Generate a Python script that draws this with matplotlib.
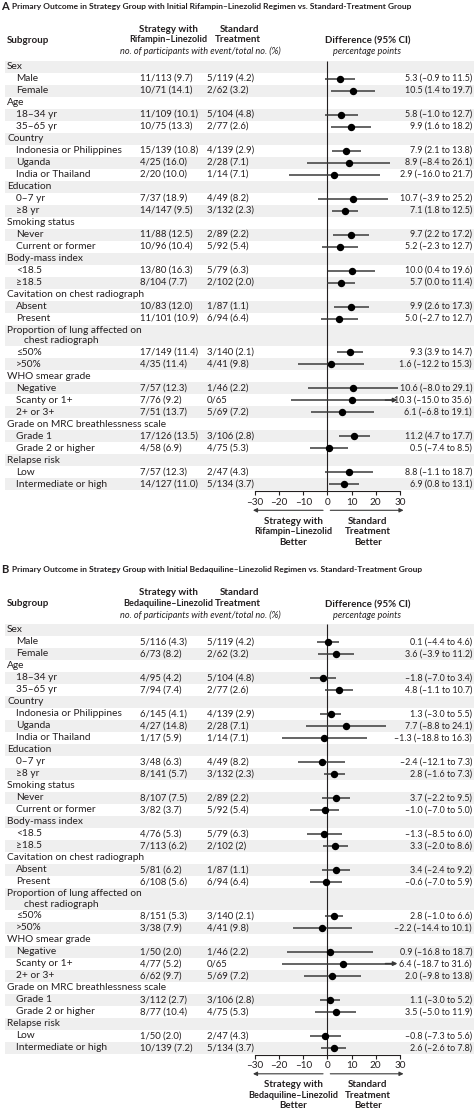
import matplotlib
matplotlib.use("Agg")
import matplotlib.pyplot as plt
import matplotlib.transforms as mtransforms
from matplotlib import font_manager

names = {f.name for f in font_manager.fontManager.ttflist}
FONT = "Liberation Sans Narrow" if "Liberation Sans Narrow" in names else "Lato"
plt.rcParams["font.family"] = [FONT, "DejaVu Sans"]
plt.rcParams["font.size"] = 7.3
NUM_SIZE = 6.8
DIFF_SIZE = 6.4
HEAD_SIZE = 7.0
NAME_SIZE = 6.6
ITAL_SIZE = 6.6

INK = "#231f20"
STRIPE = "#efefef"

W, H = 474, 1115

groups = ["Sex", "Age", "Country", "Education", "Smoking status", "Body-mass index",
          "Cavitation on chest radiograph", "Proportion of lung affected on\nchest radiograph",
          "WHO smear grade", "Grade on MRC breathlessness scale", "Relapse risk"]
subgroups = [["Male", "Female"], ["18–34 yr", "35–65 yr"],
             ["Indonesia or Philippines", "Uganda", "India or Thailand"],
             ["0–7 yr", "≥8 yr"], ["Never", "Current or former"], ["<18.5", "≥18.5"],
             ["Absent", "Present"], ["≤50%", ">50%"],
             ["Negative", "Scanty or 1+", "2+ or 3+"], ["Grade 1", "Grade 2 or higher"],
             ["Low", "Intermediate or high"]]

std_counts = ["5/119 (4.2)", "2/62 (3.2)", "5/104 (4.8)", "2/77 (2.6)", "4/139 (2.9)",
              "2/28 (7.1)", "1/14 (7.1)", "4/49 (8.2)", "3/132 (2.3)", "2/89 (2.2)",
              "5/92 (5.4)", "5/79 (6.3)", "2/102 (2.0)", "1/87 (1.1)", "6/94 (6.4)",
              "3/140 (2.1)", "4/41 (9.8)", "1/46 (2.2)", "0/65", "5/69 (7.2)",
              "3/106 (2.8)", "4/75 (5.3)", "2/47 (4.3)", "5/134 (3.7)"]

# panel A: rifampin-linezolid
rl_title = "Primary Outcome in Strategy Group with Initial Rifampin–Linezolid Regimen vs. Standard-Treatment Group"
rl_counts = ["11/113 (9.7)", "10/71 (14.1)", "11/109 (10.1)", "10/75 (13.3)", "15/139 (10.8)",
             "4/25 (16.0)", "2/20 (10.0)", "7/37 (18.9)", "14/147 (9.5)", "11/88 (12.5)",
             "10/96 (10.4)", "13/80 (16.3)", "8/104 (7.7)", "10/83 (12.0)", "11/101 (10.9)",
             "17/149 (11.4)", "4/35 (11.4)", "7/57 (12.3)", "7/76 (9.2)", "7/51 (13.7)",
             "17/126 (13.5)", "4/58 (6.9)", "7/57 (12.3)", "14/127 (11.0)"]
rl_diff = [5.3, 10.5, 5.8, 9.9, 7.9, 8.9, 2.9, 10.7, 7.1, 9.7, 5.2, 10.0, 5.7,
           9.9, 5.0, 9.3, 1.6, 10.6, 10.3, 6.1, 11.2, 0.5, 8.8, 6.9]
rl_lo = [-0.9, 1.4, -1.0, 1.6, 2.1, -8.4, -16.0, -3.9, 1.8, 2.2, -2.3, 0.4, 0.0,
         2.6, -2.7, 3.9, -12.2, -8.0, -15.0, -6.8, 4.7, -7.4, -1.1, 0.8]
rl_hi = [11.5, 19.7, 12.7, 18.2, 13.8, 26.1, 21.7, 25.2, 12.5, 17.2, 12.7, 19.6, 11.4,
         17.3, 12.7, 14.7, 15.3, 29.1, 35.6, 19.1, 17.7, 8.5, 18.7, 13.1]

# panel B: bedaquiline-linezolid
bl_title = "Primary Outcome in Strategy Group with Initial Bedaquiline–Linezolid Regimen vs. Standard-Treatment Group"
bl_counts = ["5/116 (4.3)", "6/73 (8.2)", "4/95 (4.2)", "7/94 (7.4)", "6/145 (4.1)",
             "4/27 (14.8)", "1/17 (5.9)", "3/48 (6.3)", "8/141 (5.7)", "8/107 (7.5)",
             "3/82 (3.7)", "4/76 (5.3)", "7/113 (6.2)", "5/81 (6.2)", "6/108 (5.6)",
             "8/151 (5.3)", "3/38 (7.9)", "1/50 (2.0)", "4/77 (5.2)", "6/62 (9.7)",
             "3/112 (2.7)", "8/77 (10.4)", "1/50 (2.0)", "10/139 (7.2)"]
bl_std = std_counts[:12] + ["2/102 (2)"] + std_counts[13:]
bl_diff = [0.1, 3.6, -1.8, 4.8, 1.3, 7.7, -1.3, -2.4, 2.8, 3.7, -1.0, -1.3, 3.3,
           3.4, -0.6, 2.8, -2.2, 0.9, 6.4, 2.0, 1.1, 3.5, -0.8, 2.6]
bl_lo = [-4.4, -3.9, -7.0, -1.1, -3.0, -8.8, -18.8, -12.1, -1.6, -2.2, -7.0, -8.5, -2.0,
         -2.4, -7.0, -1.0, -14.4, -16.8, -18.7, -9.8, -3.0, -5.0, -7.3, -2.6]
bl_hi = [4.6, 11.2, 3.4, 10.7, 5.5, 24.1, 16.3, 7.3, 7.3, 9.5, 5.0, 6.0, 8.6,
         9.2, 5.9, 6.6, 10.1, 18.7, 31.6, 13.8, 5.2, 11.9, 5.6, 7.8]

ticks = [-30, -20, -10, 0, 10, 20, 30]

# layout (pixels)
ROW = 12.0
SEX_PX = 66.5
X0 = 327.4
PPU = 145 / 60


def fmt(v):
    return f"{v:.1f}".replace("-", "–")


def fit(t, width_px):
    # scale a text so that its widest line is width_px wide
    r = fig.canvas.get_renderer()
    w = t.get_window_extent(r).width
    t.set_fontsize(t.get_fontsize() * width_px / w)
    return t


def draw_panel(top_px, bot_px, letter, title, title_w, name,
               counts, std, diff, lo, hi):
    ph = bot_px - top_px
    ax = fig.add_axes([0, 1 - bot_px / H, 1, ph / H])
    ax.set_xlim(-X0 / PPU, (W - X0) / PPU)
    ax.set_ylim((ph - SEX_PX) / ROW, -SEX_PX / ROW)
    for s in ["top", "left", "right"]:
        ax.spines[s].set_visible(False)
    ax.set_yticks([])
    tx = mtransforms.blended_transform_factory(ax.transAxes, ax.transData)

    def py(px):
        return (px - SEX_PX) / ROW

    def put(xpx, ypx, s, **kw):
        kw.setdefault("va", "center")
        kw.setdefault("color", INK)
        return ax.text(xpx / W, py(ypx), s, transform=tx, **kw)

    # titles and headers
    put(1, 6, letter, fontweight="bold", fontsize=8)
    fit(put(12, 6, title, fontweight="bold"), title_w)
    put(7, 40.5, "Subgroup", fontweight="bold", fontsize=HEAD_SIZE)
    put(168.5, 29.5, "Strategy with", ha="center", fontweight="bold", fontsize=HEAD_SIZE)
    put(168.5, 40, name, ha="center", fontweight="bold", fontsize=NAME_SIZE)
    put(240, 29.5, "Standard", ha="center", fontweight="bold", fontsize=HEAD_SIZE)
    put(238, 40, "Treatment", ha="center", fontweight="bold", fontsize=HEAD_SIZE)
    put(200.7, 51.7, "no. of participants with event/total no. (%)", ha="center",
        style="italic", fontsize=ITAL_SIZE)
    put(368, 41, "Difference (95% CI)", ha="center", fontweight="bold", fontsize=HEAD_SIZE)
    put(367, 51.7, "percentage points", ha="center", style="italic", fontsize=ITAL_SIZE)

    # rows
    y = -0.5
    k = 0
    n_row = 0
    ys = []
    for g, subs in zip(groups, subgroups):
        lines = g.split("\n")
        h = 1.0 if len(lines) == 1 else 1.8
        c = y + h / 2
        if n_row % 2 == 0:
            ax.axhspan(y, y + h, xmin=5 / W, xmax=1, color=STRIPE, lw=0, zorder=0)
        if len(lines) == 1:
            ax.text(7 / W, c, g, transform=tx, va="center", color=INK)
        else:
            ax.text(7 / W, c - 0.44, lines[0], transform=tx, va="center", color=INK)
            ax.text(24 / W, c + 0.44, lines[1], transform=tx, va="center", color=INK)
        y += h
        n_row += 1
        for s in subs:
            c = y + 0.5
            if n_row % 2 == 0:
                ax.axhspan(y, y + 1, xmin=5 / W, xmax=1, color=STRIPE, lw=0, zorder=0)
            ax.text(16 / W, c, s, transform=tx, va="center", color=INK)
            ax.text(140 / W, c, counts[k], transform=tx, va="center", color=INK,
                    fontsize=NUM_SIZE)
            ax.text(207 / W, c, std[k], transform=tx, va="center", color=INK,
                    fontsize=NUM_SIZE)
            ax.text(472 / W, c, f"{fmt(diff[k])} ({fmt(lo[k])} to {fmt(hi[k])})",
                    transform=tx, va="center", ha="right", color=INK, fontsize=DIFF_SIZE)
            ys.append(c)
            y += 1
            k += 1
            n_row += 1

    # confidence intervals (clipped at the axis end with an arrow)
    for yy, d, l, h in zip(ys, diff, lo, hi):
        if h > 30:
            ax.hlines(yy, l, 27, color="#3a3a3a", lw=1.1, zorder=2)
            ax.annotate("", xy=(29, yy), xytext=(24, yy),
                        arrowprops=dict(arrowstyle="-|>", color="#3a3a3a", lw=1.1,
                                        mutation_scale=6, shrinkA=0, shrinkB=0))
        else:
            ax.hlines(yy, l, h, color="#3a3a3a", lw=1.1, zorder=2)
    ax.plot(diff, ys, "o", color="black", ms=4.3, zorder=3)

    # axis
    y_axis = ys[-1] + 0.6
    ax.vlines(0, -0.5, y_axis, color=INK, lw=0.8, zorder=1)
    ax.spines["bottom"].set_position(("data", y_axis))
    ax.spines["bottom"].set_bounds(-30, 30)
    ax.spines["bottom"].set_linewidth(0.8)
    ax.spines["bottom"].set_color(INK)
    ax.set_xticks(ticks)
    ax.set_xticklabels([str(t).replace("-", "–") for t in ticks])
    ax.tick_params(axis="x", direction="out", length=3, width=0.8, pad=1.5,
                   labelsize=7.2, colors=INK)

    ya = y_axis + 19 / ROW
    for a, b in [(-1.8, -30.8), (1.2, 31.5)]:
        ax.annotate("", xy=(b, ya), xytext=(a, ya),
                    arrowprops=dict(arrowstyle="-|>", color="#3a3a3a", lw=0.8,
                                    mutation_scale=6, shrinkA=0, shrinkB=0))
    for i, s in enumerate(["Strategy with", name, "Better"]):
        ax.text((293 - X0) / PPU, y_axis + (30 + 10.6 * i) / ROW, s, ha="center",
                va="center", fontweight="bold", color=INK,
                fontsize=NAME_SIZE if i == 1 else HEAD_SIZE)
    for i, s in enumerate(["Standard", "Treatment", "Better"]):
        ax.text((368 - X0) / PPU, y_axis + (30 + 10.6 * i) / ROW, s, ha="center",
                va="center", fontweight="bold", color=INK, fontsize=HEAD_SIZE)


fig = plt.figure(figsize=(W / 100, H / 100), dpi=100)
draw_panel(0, 563.5, "A", rl_title, 405, "Rifampin–Linezolid",
           rl_counts, std_counts, rl_diff, rl_lo, rl_hi)
draw_panel(563.5, H, "B", bl_title, 415, "Bedaquiline–Linezolid",
           bl_counts, bl_std, bl_diff, bl_lo, bl_hi)
fig.savefig("out.png", dpi=100)
